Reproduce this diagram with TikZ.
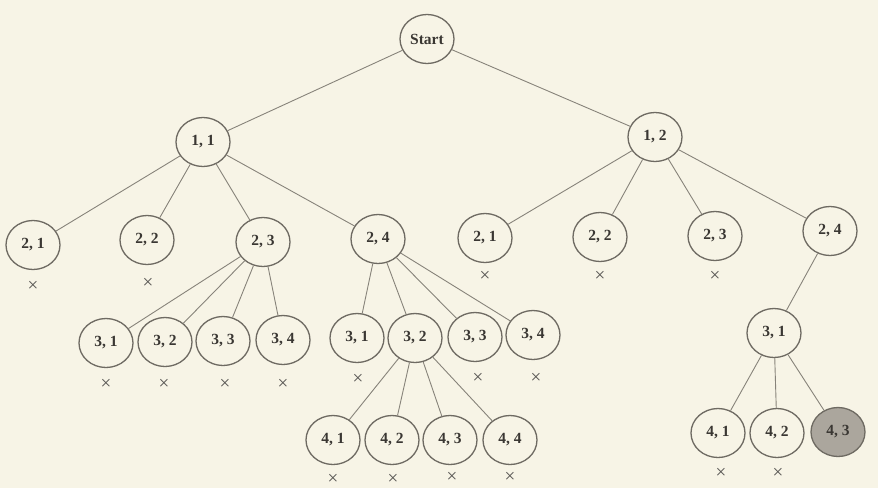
\documentclass[tikz,border=0pt]{standalone}
\usepackage{fontspec}
\setmainfont{Liberation Serif}
\usetikzlibrary{shapes.geometric}
\definecolor{paper}{HTML}{F7F4E6}
\definecolor{ring}{HTML}{6E6A62}
\definecolor{edgec}{HTML}{87837A}
\definecolor{ink}{HTML}{3A3733}
\definecolor{goal}{HTML}{ABA69D}
\tikzset{
  st/.style={ellipse, draw=ring, line width=1.3pt, fill=paper, minimum width=54pt, minimum height=49pt, inner sep=0pt, text=ink, font=\fontsize{15.5}{17}\selectfont\bfseries},
  goalst/.style={st, fill=goal},
  xm/.style={inner sep=0pt, text=ink!85, font=\fontsize{19}{20}\selectfont},
  br/.style={draw=edgec, line width=0.9pt}
}
\begin{document}
\begin{tikzpicture}[x=1pt,y=-1pt]
\useasboundingbox[fill=paper] (0,0) rectangle (878,488);
% nodes
\node[st] (s) at (427,39) {Start};
\node[st] (n11) at (203,142) {1, 1};
\node[st] (n12) at (655,137) {1, 2};
\node[st] (a21) at (33,245) {2, 1};
\node[st] (a22) at (147,240) {2, 2};
\node[st] (a23) at (263,242) {2, 3};
\node[st] (a24) at (378,239) {2, 4};
\node[st] (b21) at (485,238) {2, 1};
\node[st] (b22) at (600,237) {2, 2};
\node[st] (b23) at (715,236) {2, 3};
\node[st] (b24) at (830,231) {2, 4};
\node[st] (c31) at (106,343) {3, 1};
\node[st] (c32) at (165,342) {3, 2};
\node[st] (c33) at (223,341) {3, 3};
\node[st] (c34) at (283,340) {3, 4};
\node[st] (d31) at (357,338) {3, 1};
\node[st] (d32) at (415,338) {3, 2};
\node[st] (d33) at (475,337) {3, 3};
\node[st] (d34) at (533,335) {3, 4};
\node[st] (e41) at (333,440) {4, 1};
\node[st] (e42) at (392,440) {4, 2};
\node[st] (e43) at (450,440) {4, 3};
\node[st] (e44) at (510,440) {4, 4};
\node[st] (f31) at (774,333) {3, 1};
\node[st] (f41) at (718,433) {4, 1};
\node[st] (f42) at (777,433) {4, 2};
\node[goalst] (f43) at (838,432) {4, 3};
% edges
\draw[br] (s) -- (n11);
\draw[br] (s) -- (n12);
\foreach \c in {a21,a22,a23,a24} \draw[br] (n11) -- (\c);
\foreach \c in {b21,b22,b23,b24} \draw[br] (n12) -- (\c);
\foreach \c in {c31,c32,c33,c34} \draw[br] (a23) -- (\c);
\foreach \c in {d31,d32,d33,d34} \draw[br] (a24) -- (\c);
\foreach \c in {e41,e42,e43,e44} \draw[br] (d32) -- (\c);
\draw[br] (b24) -- (f31);
\foreach \c in {f41,f42,f43} \draw[br] (f31) -- (\c);
% dead-end marks
\node[xm] (xa21) at (33,286) {×};
\node[xm] (xa22) at (148,283) {×};
\node[xm] (xb21) at (485,276) {×};
\node[xm] (xb22) at (600,276) {×};
\node[xm] (xb23) at (715,276) {×};
\node[xm] (xc31) at (106,384) {×};
\node[xm] (xc32) at (164,384) {×};
\node[xm] (xc33) at (225,384) {×};
\node[xm] (xc34) at (283,384) {×};
\node[xm] (xd31) at (358,379) {×};
\node[xm] (xd33) at (478,378) {×};
\node[xm] (xd34) at (536,378) {×};
\node[xm] (xe41) at (333,479) {×};
\node[xm] (xe42) at (393,479) {×};
\node[xm] (xe43) at (452,477) {×};
\node[xm] (xe44) at (510,477) {×};
\node[xm] (xf41) at (721,473) {×};
\node[xm] (xf42) at (778,473) {×};
\end{tikzpicture}
\end{document}
